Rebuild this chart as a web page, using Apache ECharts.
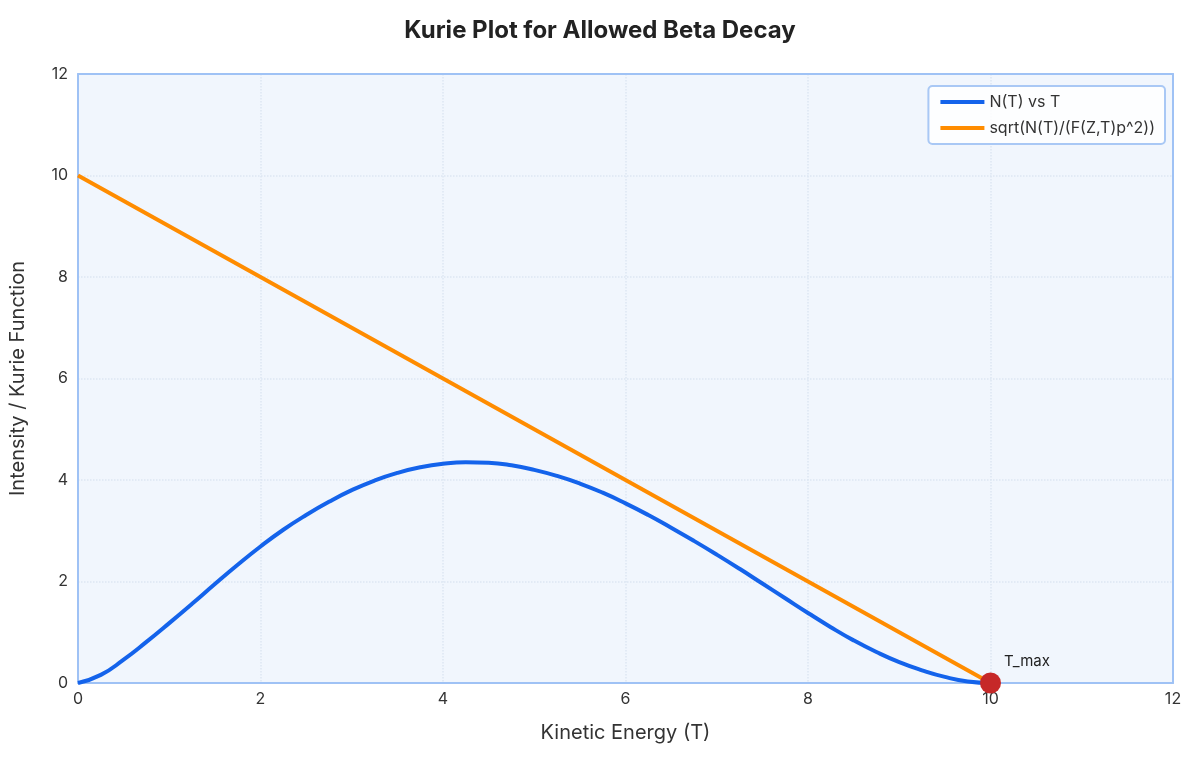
<!DOCTYPE html>
<html>
<head>
<meta charset="utf-8">
<script src="https://cdn.jsdelivr.net/npm/echarts@6/dist/echarts.min.js"></script>
<style>
html,body{margin:0;padding:0;background:#fff;}
#main{width:1200px;height:760px;}
</style>
</head>
<body>
<div id="main"></div>
<script>
// kinetic energy samples and the spectrum
var energyT = [0, 0.25, 0.5, 0.75, 1, 1.25, 1.5, 1.75, 2, 2.25, 2.5, 2.75, 3, 3.25, 3.5, 3.75, 4, 4.25, 4.5, 4.75,
	5, 5.25, 5.5, 5.75, 6, 6.25, 6.5, 6.75, 7, 7.25, 7.5, 7.75, 8, 8.25, 8.5, 8.75, 9, 9.25, 9.5, 9.75, 10];
var spectrumN = [0, 0.16, 0.46, 0.81, 1.18, 1.56, 1.95, 2.33, 2.69, 3.02, 3.31, 3.57, 3.8, 3.99, 4.14, 4.25, 4.32, 4.35, 4.34, 4.29,
	4.2, 4.08, 3.93, 3.75, 3.54, 3.31, 3.06, 2.8, 2.53, 2.25, 1.96, 1.67, 1.38, 1.1, 0.84, 0.61, 0.41, 0.25, 0.12, 0.03, 0];
var kurieT = [0, 2, 4, 6, 8, 10];
var kurieK = [10, 8, 6, 4, 2, 0];
var endPoint = [10, 0];

var fontFam = 'Inter, "Noto Sans", sans-serif';
var frameColor = '#9fc2f5';

function pairs(xs, ys){
	var out = [];
	for (var i = 0; i < xs.length; i++) {
		out.push([xs[i], ys[i]]);
	}
	return out;
}

// plain axis used only to draw the top / right frame edge
function frameAxis(pos){
	return {
		type: 'value', position: pos, min: 0, max: 12, interval: 2,
		axisLine: { show: true, onZero: false, lineStyle: { color: frameColor, width: 2 } },
		axisTick: { show: false }, axisLabel: { show: false }, splitLine: { show: false }
	};
}

var myChart = echarts.init(document.getElementById('main'));
var option = {
	animation: false,
	textStyle: { fontFamily: fontFam },
	title: {
		text: 'Kurie Plot for Allowed Beta Decay',
		left: 'center',
		top: 14,
		textStyle: { fontSize: 24, fontWeight: 'bold', color: '#222', fontFamily: fontFam }
	},
	legend: {
		orient: 'vertical',
		right: 35,
		top: 86,
		padding: [8, 10, 8, 12],
		itemGap: 10,
		itemWidth: 44,
		itemHeight: 4,
		backgroundColor: 'rgba(255,255,255,0.85)',
		borderColor: '#a9c8f5',
		borderWidth: 2,
		borderRadius: 4,
		textStyle: { fontSize: 16, color: '#333', fontFamily: fontFam },
		data: [
			{ name: 'N(T) vs T', icon: 'rect' },
			{ name: 'sqrt(N(T)/(F(Z,T)p^2))', icon: 'rect' }
		]
	},
	grid: {
		left: 78,
		right: 27,
		top: 74,
		bottom: 77,
		show: true,
		backgroundColor: '#f1f6fd',
		borderWidth: 0
	},
	xAxis: [{
		type: 'value',
		min: 0,
		max: 12,
		interval: 2,
		name: 'Kinetic Energy (T)',
		nameLocation: 'middle',
		nameGap: 40,
		nameTextStyle: { fontSize: 20, color: '#333' },
		axisLine: { show: true, onZero: false, lineStyle: { color: frameColor, width: 2 } },
		axisTick: { show: false },
		axisLabel: { fontSize: 16, color: '#333', margin: 8 },
		splitLine: { show: true, lineStyle: { color: '#dde6f2', type: 'dotted', width: 1.5 } }
	}, frameAxis('top')],
	yAxis: [{
		type: 'value',
		min: 0,
		max: 12,
		interval: 2,
		name: 'Intensity / Kurie Function',
		nameLocation: 'middle',
		nameGap: 50,
		nameTextStyle: { fontSize: 20, color: '#333' },
		axisLine: { show: true, onZero: false, lineStyle: { color: frameColor, width: 2 } },
		axisTick: { show: false },
		axisLabel: { fontSize: 16, color: '#333', margin: 10 },
		splitLine: { show: true, lineStyle: { color: '#dde6f2', type: 'dotted', width: 1.5 } }
	}, frameAxis('right')],
	series: [
		{
			name: 'N(T) vs T',
			type: 'line',
			data: pairs(energyT, spectrumN),
			smooth: 0.5,
			showSymbol: false,
			color: '#1463eb',
			lineStyle: { width: 4, color: '#1463eb' },
			z: 3
		},
		{
			name: 'sqrt(N(T)/(F(Z,T)p^2))',
			type: 'line',
			data: pairs(kurieT, kurieK),
			showSymbol: false,
			color: '#ff8c00',
			lineStyle: { width: 4, color: '#ff8c00' },
			z: 4
		},
		{
			name: 'T_max',
			type: 'scatter',
			data: [endPoint],
			symbolSize: 21,
			itemStyle: { color: '#c62828', opacity: 1 },
			label: {
				show: true,
				formatter: 'T_max',
				position: 'right',
				offset: [-2, -22],
				fontSize: 15,
				color: '#222'
			},
			z: 5
		}
	]
};
myChart.setOption(option);
</script>
</body>
</html>
